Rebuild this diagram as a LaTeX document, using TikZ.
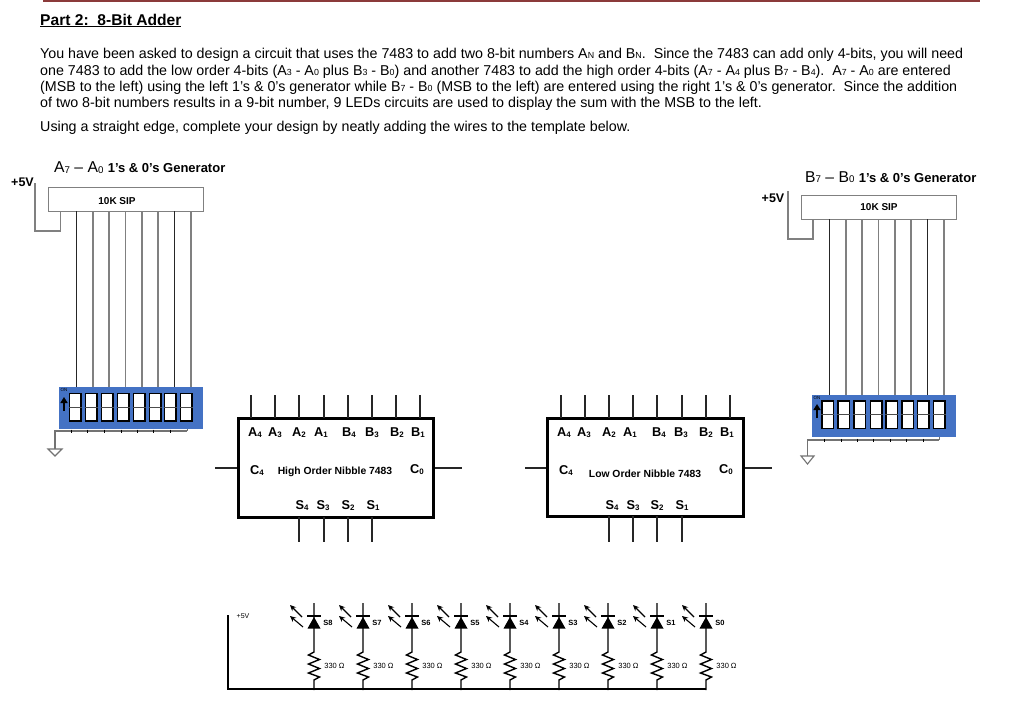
\documentclass[tikz,border=0pt]{standalone}
\usepackage{fontspec}
\setmainfont{Liberation Sans}
\usetikzlibrary{arrows.meta}
\newcommand{\sbx}[1]{\raisebox{-0.12ex}{\scalebox{.62}{#1}}}
\newcommand{\sx}[1]{\sbx{#1}}
\definecolor{dipblue}{HTML}{4472C4}
\definecolor{rulered}{HTML}{8B3A3A}
\tikzset{
  x=1pt,y=-1pt,
  body/.style={anchor=base west,inner sep=0pt,font=\fontsize{14.27}{16}\selectfont},
  genhead/.style={anchor=base west,inner sep=0pt,font=\fontsize{15.7}{16}\selectfont},
  supply/.style={inner sep=0pt,font=\fontsize{12.5}{12}\bfseries\selectfont},
  siplabel/.style={inner sep=0pt,font=\fontsize{10}{12}\bfseries\selectfont},
  sipbox/.style={draw=black!50,line width=1pt,fill=white,inner sep=0pt},
  wiredark/.style={draw=black!85,line width=1pt},
  wiregray/.style={draw=black!50,line width=1.1pt},
  dipbody/.style={fill=dipblue,draw=none,minimum width=144pt,minimum height=42pt,inner sep=0pt},
  rocker/.style={draw=black,line width=1.5pt,fill=white,minimum width=11.5pt,minimum height=27.5pt,inner sep=0pt},
  gndwire/.style={draw=black!55,line width=1.1pt},
  pin/.style={draw=black!85,line width=2pt},
  chip/.style={draw=black,line width=3pt,inner sep=0pt},
  chiptext/.style={inner sep=0pt,text height=9pt,text depth=0pt,font=\fontsize{12.8}{12}\bfseries\selectfont},
  chipname/.style={inner sep=0pt,font=\fontsize{10.35}{12}\bfseries\selectfont},
  ledwire/.style={draw=black,line width=1.4pt},
  ledarrow/.style={draw=black,line width=1.1pt,-{Stealth[length=6pt,width=5.5pt]}},
  tinytext/.style={inner sep=0pt,font=\fontsize{7.5}{8}\bfseries\selectfont},
  valtext/.style={inner sep=0pt,font=\fontsize{7.5}{8}\selectfont},
}
\begin{document}
\begin{tikzpicture}
\useasboundingbox (0,0) rectangle (1024,715);
\fill[white] (0,0) rectangle (1024,715);
\draw[rulered,line width=1.2pt] (43,1) -- (980,1);
% text
\node[anchor=base west,inner sep=0pt,font=\fontsize{15.6}{16}\bfseries\selectfont] (title) at (40,25) {\underline{Part 2:\ \ 8-Bit Adder}};
\node[body] (l1) at (40,58) {You have been asked to design a circuit that uses the 7483 to add two 8-bit numbers A\sx{N} and B\sx{N}.\ \ Since the 7483 can add only 4-bits, you will need};
\node[body] (l2) at (40,75) {one 7483 to add the low order 4-bits (A\sx{3} - A\sx{0} plus B\sx{3} - B\sx{0}) and another 7483 to add the high order 4-bits (A\sx{7} - A\sx{4} plus B\sx{7} - B\sx{4}).\ \ A\sx{7} - A\sx{0} are entered};
\node[body] (l3) at (40,91) {(MSB to the left) using the left 1's \& 0's generator while B\sx{7} - B\sx{0} (MSB to the left) are entered using the right 1's \& 0's generator.\ \ Since the addition};
\node[body] (l4) at (40,107.5) {of two 8-bit numbers results in a 9-bit number, 9 LEDs circuits are used to display the sum with the MSB to the left.};
\node[body] (l5) at (40,131.5) {Using a straight edge, complete your design by neatly adding the wires to the template below.};
\node[genhead] (hl) at (54,172) {A\sx{7} -- A\sx{0} {\fontsize{13}{12}\bfseries\selectfont 1's \& 0's Generator}};
\node[genhead] (hr) at (805,182) {B\sx{7} -- B\sx{0} {\fontsize{13}{12}\bfseries\selectfont 1's \& 0's Generator}};
% left generator
\node[supply] (vl) at (22.5,182) {+5V};
\node[sipbox,minimum width=155pt,minimum height=24pt] (sipl) at (125.5,199) {};
\node[siplabel] (sipltxt) at (117,201) {10K SIP};
\coordinate (vlt) at (35,183);
\coordinate (vlp) at (60.5,211);
\draw[wiregray] (vlt) |- (vlp |- 0,231) -- (vlp);
\node[dipbody] (dipl) at (131,408) {};
\foreach \x/\rx [count=\i] in {76.5/75,93/91,109/107,125.5/123,142/139,158/155,174/170,191/186}{
  \ifnum\i=1 \def\wst{wiredark}\else\ifnum\i=7 \def\wst{wiredark}\else\def\wst{wiregray}\fi\fi
  \coordinate (lt\i) at (\x,211);
  \coordinate (lb\i) at (\x,387);
  \draw[\wst] (lt\i) -- (lb\i);
  \node[rocker] (lsw\i) at (\rx,407) {};
  \draw[black!70,line width=.8pt] (lsw\i.west) -- (lsw\i.east);
}
\coordinate (lgt) at (55,431);
\coordinate (lge) at (187,431);
\coordinate (lgb) at (55,449);
\draw[gndwire] (lgb) -- (lgt) -- (lge);
\foreach \x in {71,87,104,121,137,153,170}{\draw[black,line width=1pt] (\x,429.5) -- (\x,432.5);}
\draw[black!55,line width=1pt] (187,429) -- (187,431);
\draw[gndwire,fill=white] (48,449) -- (62,449) -- (55,456) -- cycle;
\draw[black,line width=2pt,-{Triangle[length=6pt,width=7pt]}] (64,411) -- (64,397);
\node[inner sep=0pt,font=\fontsize{4.5}{5}\selectfont] (onl) at (64,389.5) {ON};
% right generator
\node[supply] (vr) at (773,198) {+5V};
\node[sipbox,minimum width=155pt,minimum height=24pt] (sipr) at (878.5,207) {};
\node[siplabel] (siprtxt) at (879,207) {10K SIP};
\coordinate (vrt) at (788,191);
\coordinate (vrp) at (813,219);
\draw[wiregray] (vrt) |- (vrp |- 0,239) -- (vrp);
\node[dipbody] (dipr) at (884,416) {};
\foreach \x/\rx [count=\i] in {829.5/827.5,846/843.5,862/859.5,878.5/876,895/891.5,911/907.5,927.5/923,944/939}{
  \ifnum\i=1 \def\wst{wiredark}\else\ifnum\i=7 \def\wst{wiredark}\else\def\wst{wiregray}\fi\fi
  \coordinate (rt\i) at (\x,219);
  \coordinate (rb\i) at (\x,395);
  \draw[\wst] (rt\i) -- (rb\i);
  \node[rocker] (rsw\i) at (\rx,414.5) {};
  \draw[black!70,line width=.8pt] (rsw\i.west) -- (rsw\i.east);
}
\coordinate (rgt) at (807.5,440);
\coordinate (rge) at (939,440);
\coordinate (rgb) at (807.5,456);
\draw[gndwire] (rgb) -- (rgt) -- (rge);
\foreach \x in {824,841,857,873,890,906,923}{\draw[black,line width=1pt] (\x,438.5) -- (\x,441.5);}
\draw[black!55,line width=1pt] (939,437) -- (939,440);
\draw[gndwire,fill=white] (801,456) -- (814,456) -- (807.5,464) -- cycle;
\draw[black,line width=2pt,-{Triangle[length=6pt,width=7pt]}] (817,418) -- (817,404);
\node[inner sep=0pt,font=\fontsize{4.5}{5}\selectfont] (onr) at (817,397.5) {ON};
% high adder
\node[chip,minimum width=195pt,minimum height=99pt] (hi) at (335.5,467.5) {};
\foreach \x in {251,275,299,324,348,372,396,420}{\draw[pin] (\x,395) -- (\x,418);}
\foreach \x in {299,324,348,372}{\draw[pin] (\x,517) -- (\x,542);}
\coordinate (hic) at (215,468); \coordinate (hio) at (462,468);
\draw[pin] (hic) -- (hi.west |- hic);
\draw[pin] (hi.east |- hio) -- (hio);
\foreach \x/\t/\s in {255/A/4,275/A/3,299/A/2,321/A/1,349/B/4,372/B/3,397/B/2,418/B/1}{
  \node[chiptext] at (\x,432) {\t\sbx{\s}};}
\node[chiptext] (hc4) at (257,470) {C\sbx{4}};
\node[chiptext] (hc0) at (417,469) {C\sbx{0}};
\node[chipname] (hname) at (335,472) {High Order Nibble 7483};
\foreach \x/\s in {302/4,323/3,348/2,373/1}{\node[chiptext] at (\x,505) {S\sbx{\s}};}
% low adder
\node[chip,minimum width=196pt,minimum height=98pt] (lo) at (645,467) {};
\foreach \x in {561,585,609,633,657,682,706,730}{\draw[pin] (\x,395) -- (\x,418);}
\foreach \x in {609,633,657,682}{\draw[pin] (\x,516) -- (\x,542);}
\coordinate (loc) at (525,468); \coordinate (loo) at (772,468);
\draw[pin] (loc) -- (lo.west |- loc);
\draw[pin] (lo.east |- loo) -- (loo);
\foreach \x/\t/\s in {564/A/4,584/A/3,609/A/2,630/A/1,659/B/4,681/B/3,706/B/2,727/B/1}{
  \node[chiptext] at (\x,432) {\t\sbx{\s}};}
\node[chiptext] (lc4) at (566,470) {C\sbx{4}};
\node[chiptext] (lc0) at (726,469) {C\sbx{0}};
\node[chipname] (lname) at (645,474) {Low Order Nibble 7483};
\foreach \x/\s in {612/4,633/3,657/2,682/1}{\node[chiptext] at (\x,505) {S\sbx{\s}};}
% LEDs
\coordinate (bus0) at (228,689);
\coordinate (bust) at (228,615);
\coordinate (busr) at (706,689);
\draw[ledwire] (bust) -- (bus0) -- (busr);
\node[inner sep=0pt,font=\fontsize{7}{8}\selectfont] (vled) at (243,616) {+5V};
\foreach \x/\lbl in {314/S8,363/S7,412/S6,461/S5,510/S4,559/S3,608/S2,657/S1,706/S0}{
  \begin{scope}[shift={(\x,0)}]
    \draw[ledwire] (0,603) -- (0,652) -- (-5.5,655) -- (5.5,659.5) -- (-5.5,664) -- (5.5,668.5) -- (-5.5,673) -- (5.5,677) -- (0,680) -- (0,690);
    \draw[ledwire] (-7,616) -- (7,616);
    \fill[black] (0,617) -- (6.5,628.5) -- (-6.5,628.5) -- cycle;
    \draw[ledarrow] (-12,617) -- (-24,605);
    \draw[ledarrow] (-11,627) -- (-24,616);
    \node[tinytext] at (14,623) {\lbl};
    \node[valtext] at (20.5,666) {330 Ω};
  \end{scope}
}
\end{tikzpicture}
\end{document}
